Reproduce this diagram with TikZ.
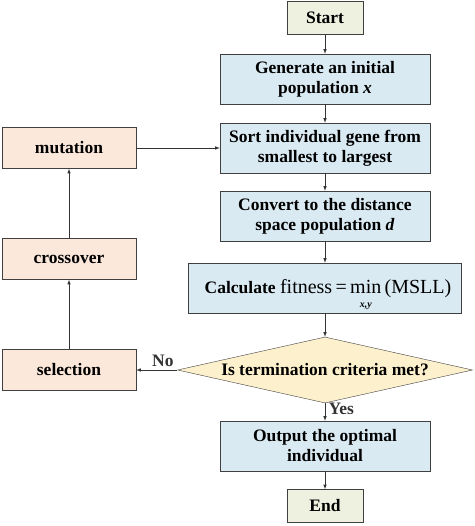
\documentclass[tikz,border=0pt]{standalone}
\usepackage{fontspec}
\setmainfont{Liberation Serif}
\usetikzlibrary{shapes.geometric}
\definecolor{termfill}{HTML}{EEF0E0}
\definecolor{procfill}{HTML}{DAEAF3}
\definecolor{gafill}{HTML}{FBE8DB}
\definecolor{decfill}{HTML}{FDF0CC}
\begin{document}
\begin{tikzpicture}[x=1pt,y=-1pt,
	font=\fontsize{17.5}{20}\selectfont\bfseries,
	term/.style={draw=black!75, fill=termfill, minimum width=76pt, minimum height=33pt},
	proc/.style={draw=black!75, fill=procfill, minimum width=210pt, minimum height=50pt, align=center, inner sep=2pt},
	gabox/.style={draw=black!75, fill=gafill, minimum width=134pt, minimum height=41pt},
	dec/.style={diamond, draw=black!75, fill=decfill, aspect=4.4, minimum width=295pt, minimum height=66pt, inner sep=0pt},
	line/.style={->, >=latex, black!80, semithick}]
	\useasboundingbox (0,0) rectangle (474,526);
	
	\node[term] (start) at (325,18) {Start};
	\node[proc] (gen) at (325,79) {Generate an initial\\population \textit{x}};
	\node[proc] (sort) at (325,148) {Sort individual gene from\\smallest to largest};
	\node[proc] (conv) at (325,216) {Convert to the distance\\space population \textit{d}};
	\node[proc, minimum width=273pt, text height=13pt, text depth=3pt] (calc) at (325,288) {\hspace{6pt}Calculate {\fontsize{20}{20}\selectfont\mdseries fitness\,=\,\begin{tabular}[t]{@{}c@{}}min\\[-6pt]{\fontsize{10}{10}\selectfont\bfseries\itshape x,y}\end{tabular}\,(MSLL)}};
	\node[dec] (cond) at (325,370) {Is termination criteria met?};
	\node[proc] (out) at (325,446) {Output the optimal\\individual};
	\node[term] (end) at (325,506) {End};
	
	\node[gabox] (mut) at (69,148) {mutation};
	\node[gabox] (cross) at (69,259) {crossover};
	\node[gabox] (sel) at (69,370) {selection};
	
	\draw[line] (start) -- (gen);
	\draw[line] (gen) -- (sort);
	\draw[line] (sort) -- (conv);
	\draw[line] (conv) -- (calc);
	\draw[line] (calc) -- (cond);
	\draw[line] (cond) -- node[right, pos=0.3] {Yes} (out);
	\draw[line] (out) -- (end);
	
	\draw[line] (cond) -- node[above, pos=0.35] {No} (sel);
	\draw[line] (sel) -- (cross);
	\draw[line] (cross) -- (mut);
	\draw[line] (mut) -- (sort);
\end{tikzpicture}
\end{document}
